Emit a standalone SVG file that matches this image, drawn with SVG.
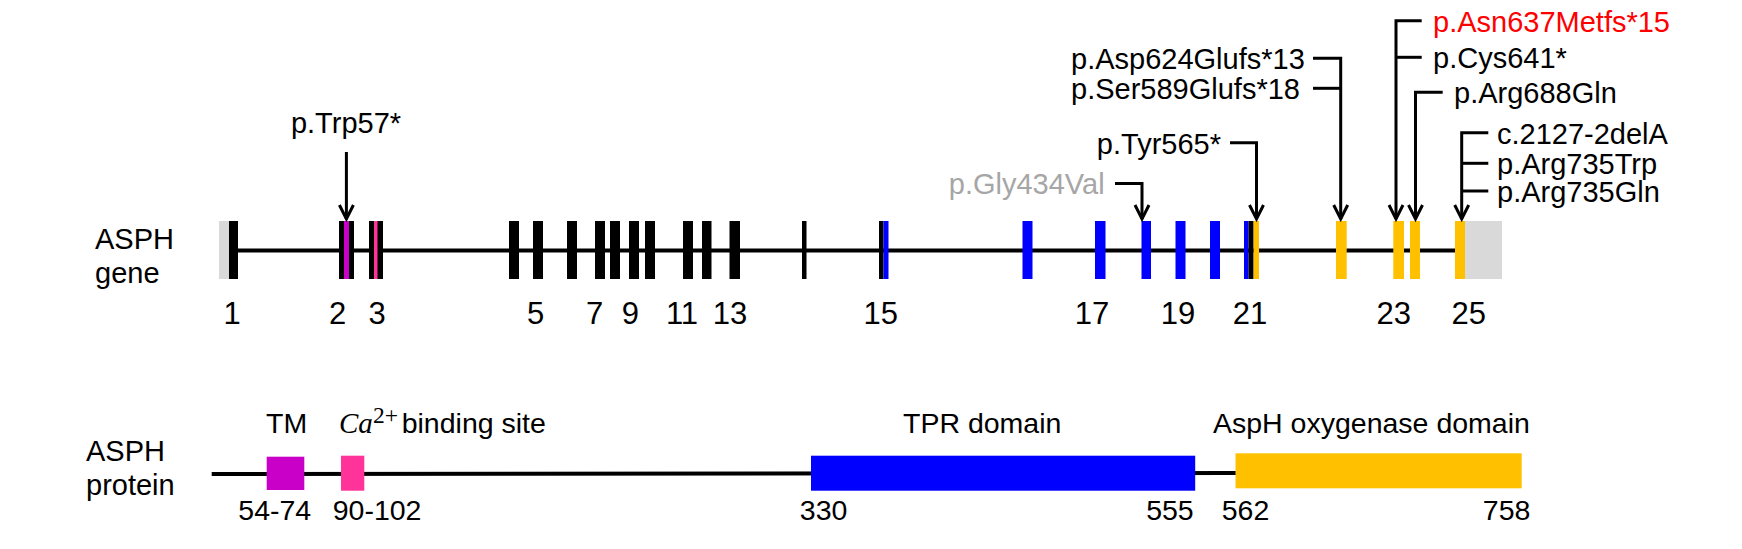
<svg xmlns="http://www.w3.org/2000/svg" width="1742" height="549" viewBox="0 0 1742 549">
<defs>
<style>
text{font-family:"Liberation Sans",Arial,sans-serif;font-size:29px;fill:#000}
.p{font-size:28.5px}
.num{text-anchor:middle;font-size:31px}
.k{fill:#000}
.gy{fill:#D9D9D9}
.bl{fill:#0000FF}
.ye{fill:#FFC000}
.mg{fill:#C800C8}
.pk{fill:#FF3399}
.ln{stroke:#000;stroke-width:4;fill:none}
.cn{stroke:#000;stroke-width:3;fill:none}
.ar{stroke:#000;stroke-width:3;fill:none;marker-end:url(#ah)}
</style>
<marker id="ah" markerUnits="userSpaceOnUse" markerWidth="24" markerHeight="24" viewBox="-18 -12 24 24" refX="0" refY="0" orient="auto">
<path d="M-14,-7 L0,0 L-14,7" fill="none" stroke="#000" stroke-width="3"/>
</marker>
</defs>
<rect width="1742" height="549" fill="#fff"/>

<g id="gene-label">
<text x="95" y="249">ASPH</text>
<text x="95" y="283">gene</text>
</g>

<g id="gene-backbone">
<line class="ln" x1="229" y1="250.5" x2="1460" y2="250.5"/>
</g>

<g id="exons">
<rect class="gy" x="219" y="221" width="10" height="58"/>
<rect class="k" x="229" y="221" width="9" height="58"/>
<rect class="k" x="339" y="221" width="15" height="58"/>
<rect class="mg" x="344" y="221" width="5" height="58"/>
<rect class="k" x="369" y="221" width="14" height="58"/>
<rect class="pk" x="374" y="221" width="3.5" height="58"/>
<rect class="k" x="509" y="221" width="10" height="58"/>
<rect class="k" x="533" y="221" width="10" height="58"/>
<rect class="k" x="567" y="221" width="10" height="58"/>
<rect class="k" x="595" y="221" width="10" height="58"/>
<rect class="k" x="610" y="221" width="10" height="58"/>
<rect class="k" x="629" y="221" width="10" height="58"/>
<rect class="k" x="645" y="221" width="10" height="58"/>
<rect class="k" x="683" y="221" width="10" height="58"/>
<rect class="k" x="702" y="221" width="9.5" height="58"/>
<rect class="k" x="729.5" y="221" width="10.5" height="58"/>
<rect class="k" x="802" y="221" width="4.5" height="58"/>
<rect class="k" x="879" y="221" width="4.5" height="58"/>
<rect class="bl" x="883.5" y="221" width="5" height="58"/>
<rect class="bl" x="1022.5" y="221" width="10" height="58"/>
<rect class="bl" x="1095" y="221" width="10.5" height="58"/>
<rect class="bl" x="1141.5" y="221" width="9.5" height="58"/>
<rect class="bl" x="1175.5" y="221" width="10" height="58"/>
<rect class="bl" x="1210" y="221" width="10" height="58"/>
<rect class="bl" x="1244" y="221" width="4.6" height="58"/>
<rect class="k" x="1248.6" y="221" width="5" height="58"/>
<rect class="ye" x="1253.6" y="221" width="5.4" height="58"/>
<rect class="ye" x="1336" y="221" width="10.7" height="58"/>
<rect class="ye" x="1393.3" y="221" width="10.7" height="58"/>
<rect class="ye" x="1410" y="221" width="10" height="58"/>
<rect class="ye" x="1455" y="221" width="10" height="58"/>
<rect class="gy" x="1465" y="221" width="37" height="58"/>
</g>

<g id="exon-numbers">
<text class="num" x="232" y="323.5">1</text>
<text class="num" x="337.5" y="323.5">2</text>
<text class="num" x="377" y="323.5">3</text>
<text class="num" x="535.7" y="323.5">5</text>
<text class="num" x="594.6" y="323.5">7</text>
<text class="num" x="630.4" y="323.5">9</text>
<text class="num" x="682" y="323.5">11</text>
<text class="num" x="730" y="323.5">13</text>
<text class="num" x="880.7" y="323.5">15</text>
<text class="num" x="1092" y="323.5">17</text>
<text class="num" x="1178" y="323.5">19</text>
<text class="num" x="1250" y="323.5">21</text>
<text class="num" x="1393.8" y="323.5">23</text>
<text class="num" x="1468.8" y="323.5">25</text>
</g>

<g id="variant-labels">
<text x="346" y="133" text-anchor="middle">p.Trp57*</text>
<text x="1104.6" y="194" text-anchor="end" style="fill:#A6A6A6">p.Gly434Val</text>
<text x="1221" y="153.5" text-anchor="end">p.Tyr565*</text>
<text x="1071" y="69">p.Asp624Glufs*13</text>
<text x="1071" y="99">p.Ser589Glufs*18</text>
<text x="1433" y="32" style="fill:#FF0000">p.Asn637Metfs*15</text>
<text x="1433" y="68">p.Cys641*</text>
<text x="1454" y="103">p.Arg688Gln</text>
<text x="1497" y="143.5">c.2127-2delA</text>
<text x="1497" y="174">p.Arg735Trp</text>
<text x="1497" y="202">p.Arg735Gln</text>
</g>

<g id="connectors">
<path class="ar" d="M346.4,152 V219"/>
<path class="ar" d="M1115,183.5 H1142 V219"/>
<path class="ar" d="M1230,142.7 H1256.5 V219"/>
<path class="ar" d="M1313,58.3 H1340.7 V219"/>
<path class="cn" d="M1313,88.3 H1340.7"/>
<path class="ar" d="M1421.7,20.7 H1396 V219"/>
<path class="cn" d="M1396,57.3 H1421.7"/>
<path class="ar" d="M1442.7,92.3 H1415.5 V219"/>
<path class="ar" d="M1488.3,132.7 H1461.7 V219"/>
<path class="cn" d="M1461.7,163.3 H1488.3"/>
<path class="cn" d="M1461.7,191 H1488.3"/>
</g>

<g id="protein-label">
<text x="86" y="461">ASPH</text>
<text x="86" y="495">protein</text>
</g>

<g id="protein-backbone">
<line class="ln" x1="211.7" y1="474" x2="1236" y2="473"/>
</g>

<g id="domain-TM">
<rect class="mg" x="266.7" y="456.7" width="37.6" height="33.3"/>
<text class="p" x="266" y="433">TM</text>
<text class="p" x="238.3" y="520">54-74</text>
</g>

<g id="domain-Ca">
<rect class="pk" x="341" y="455.7" width="23.3" height="35"/>
<text class="p" x="339" y="433"><tspan style="font-family:'Liberation Serif','DejaVu Serif',serif;font-style:italic;font-size:29px">Ca</tspan><tspan x="373" y="423" style="font-family:'Liberation Serif','DejaVu Serif',serif;font-size:23.5px">2+</tspan><tspan x="401.7" y="433">binding site</tspan></text>
<text class="p" x="332.7" y="520">90-102</text>
</g>

<g id="domain-TPR">
<rect class="bl" x="811" y="455.7" width="384.2" height="35"/>
<text class="p" x="903" y="433">TPR domain</text>
<text class="p" x="799.8" y="520">330</text>
<text class="p" x="1193.7" y="520" text-anchor="end">555</text>
</g>

<g id="domain-oxygenase">
<rect class="ye" x="1235.5" y="453.3" width="286.2" height="35"/>
<text class="p" x="1213" y="433">AspH oxygenase domain</text>
<text class="p" x="1221.7" y="520">562</text>
<text class="p" x="1530.4" y="520" text-anchor="end">758</text>
</g>
</svg>
